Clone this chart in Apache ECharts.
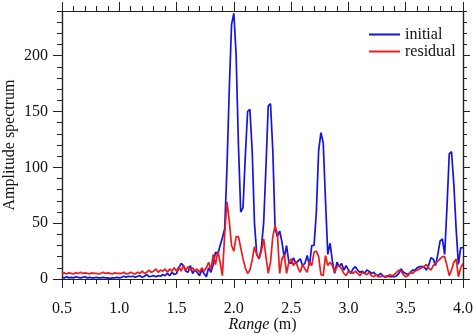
<!DOCTYPE html>
<html>
<head>
<meta charset="utf-8">
<script src="https://cdn.jsdelivr.net/npm/echarts@6/dist/echarts.min.js"></script>
<style>
html,body{margin:0;padding:0;background:#fff;}
#c{width:474px;height:335px;}
</style>
</head>
<body>
<div id="c"></div>
<script>
// Range samples (m)
const range = [
0.50,0.52,0.54,0.56,0.58,0.60,0.62,0.64,0.66,0.68,0.70,0.72,0.74,0.76,0.78,0.80,0.82,0.84,0.86,0.88,0.90,0.92,0.94,0.96,0.98,
1.00,1.02,1.04,1.06,1.08,1.10,1.12,1.14,1.16,1.18,1.20,1.22,1.24,1.26,1.28,1.30,1.32,1.34,1.36,1.38,1.40,1.42,1.44,1.46,1.48,
1.50,1.52,1.54,1.56,1.58,1.60,1.62,1.64,1.66,1.68,1.70,1.72,1.74,1.76,1.78,1.80,1.82,1.84,1.86,1.88,1.90,1.92,1.94,1.96,1.98,
2.00,2.02,2.04,2.06,2.08,2.10,2.12,2.14,2.16,2.18,2.20,2.22,2.24,2.26,2.28,2.30,2.32,2.34,2.36,2.38,2.40,2.42,2.44,2.46,2.48,
2.50,2.52,2.54,2.56,2.58,2.60,2.62,2.64,2.66,2.68,2.70,2.72,2.74,2.76,2.78,2.80,2.82,2.84,2.86,2.88,2.90,2.92,2.94,2.96,2.98,
3.00,3.02,3.04,3.06,3.08,3.10,3.12,3.14,3.16,3.18,3.20,3.22,3.24,3.26,3.28,3.30,3.32,3.34,3.36,3.38,3.40,3.42,3.44,3.46,3.48,
3.50,3.52,3.54,3.56,3.58,3.60,3.62,3.64,3.66,3.68,3.70,3.72,3.74,3.76,3.78,3.80,3.82,3.84,3.86,3.88,3.90,3.92,3.94,3.96,3.98,
4.00
];

// Amplitude spectrum, initial (blue)
const initial = [
1.5,1,2,1,1.5,1,2,1.5,1,1.5,2,1,1.5,1,1,1.5,1,1,1.5,1,1,0.5,1,1,1.5,1,
1.5,2.5,1.5,2.5,2,2.5,1.5,2.5,3,1.5,2.5,4,2,2.5,3,2,3,2.5,4,3,
5,3,6,4,5,
10,14,12,7,6,12,5,8,6,3,8,5,2,10,6,13,24,22,30,37,45,100,170,228,238,
200,120,60,64,110,150,152,115,50,22,
18,28,50,100,155,157,115,45,38,43,
33,19,30,15,14,19,14,16,18,12,
14,21,12,30,30,60,115,131,122,70,
22,32,16,5,15,11,14,8,12,8,
5,9,11,8,6,7,5,8,7,5,
6,4,3,5,3,2,3,2,2,2,
3,5,9,6,5,4,6,8,8,10,
11,11,11,8,12,19,18,12,22,34,
36,22,64,112,114,85,45,13,28,28
];

// Amplitude spectrum, residual (red)
const residual = [
5,5.5,4.5,5.5,5,4.5,5.5,5,6,5,5.5,5,4.5,5.5,5,5,4.5,5,6,5,5.5,5,4.5,5.5,5,5,
5,6,4.5,5,6,5,4.5,6,5,7,5,6,8,6,7,9,6,8,7,9,
6,9,7,10,7,
11,7,12,8,11,8,10,7,9,6,10,7,10,15,8,22,13,25,15,3,40,69,52,30,25,
38,38,28,18,10,5,8,17,29,22,
18,25,36,20,5,15,38,48,40,5,
18,22,5,15,18,12,16,10,6,13,
9,6,16,12,24,25,20,4,3,21,
12,15,12,6,11,12,9,5,3,7,
6,5,7,5,3,6,5,4,6,3,
2,4,2,2,3,1.5,2,4,3,4,
6,8,7,4,2,3,6,5,7,8,
9,10,11,13,10,8,12,14,16,18,
20,20,12,3,8,15,18,2,10,14
];

const seriesNames = ['initial', 'residual'];
const xTickLabels = [0.5, 1.0, 1.5, 2.0, 2.5, 3.0, 3.5, 4.0];
const yTickLabels = [0, 50, 100, 150, 200];

const FONT = "'Liberation Serif', 'DejaVu Serif', serif";
const AX = '#222';
const BLUE = '#1414dc';
const RED = '#ec1c1c';
const chart = echarts.init(document.getElementById('c'), null, {renderer: 'canvas'});

const baseX = {
  type: 'value', min: 0.5, max: 4.0, interval: 0.5, gridIndex: 0,
  axisLine: {show: true, onZero: false, lineStyle: {color: AX, width: 1.2}},
  axisTick: {show: true, inside: false, length: 9, lineStyle: {color: AX, width: 1}},
  minorTick: {show: true, splitNumber: 5, length: 5, lineStyle: {color: AX, width: 1}},
  splitLine: {show: false}, minorSplitLine: {show: false}
};
const baseY = {
  type: 'value', min: 0, max: 240, gridIndex: 0,
  axisLine: {show: true, onZero: false, lineStyle: {color: AX, width: 1.2}},
  splitLine: {show: false}
};

const option = {
  animation: false,
  backgroundColor: '#fff',
  grid: {left: 62, right: 11, top: 11, bottom: 56, containLabel: false, outerBoundsMode: 'none'},
  legend: {
    orient: 'vertical', left: 364, top: 21,
    itemWidth: 31, itemHeight: 2, itemGap: 0,
    icon: 'rect',
    data: [
      {name: seriesNames[0], itemStyle: {color: BLUE}},
      {name: seriesNames[1], itemStyle: {color: RED}}
    ],
    textStyle: {fontFamily: FONT, fontSize: 16, color: '#111', lineHeight: 17}
  },
  xAxis: [
    Object.assign({}, baseX, {
      position: 'bottom',
      axisLabel: {show: true, margin: 22, fontFamily: FONT, fontSize: 16, color: '#111',
        customValues: xTickLabels, formatter: v => v.toFixed(1)},
      name: '{it|Range} (m)', nameLocation: 'middle', nameGap: 38, nameMoveOverlap: false,
      nameTextStyle: {fontFamily: FONT, fontSize: 16, color: '#111',
        rich: {it: {fontFamily: FONT, fontSize: 16, fontStyle: 'italic', color: '#111'}}}
    }),
    Object.assign({}, baseX, {
      position: 'top',
      axisLabel: {show: false}
    })
  ],
  yAxis: [
    Object.assign({}, baseY, {
      position: 'left', interval: 50,
      axisTick: {show: true, length: 9, customValues: yTickLabels, lineStyle: {color: AX, width: 1}},
      axisLabel: {show: true, margin: 14, fontFamily: FONT, fontSize: 16, color: '#111', customValues: yTickLabels},
      name: 'Amplitude spectrum', nameLocation: 'middle', nameGap: 44, nameRotate: 90, nameMoveOverlap: false,
      nameTextStyle: {fontFamily: FONT, fontSize: 16, color: '#111'}
    }),
    Object.assign({}, baseY, {
      position: 'left', interval: 10,
      axisTick: {show: true, length: 5, lineStyle: {color: AX, width: 1}},
      axisLabel: {show: false}
    }),
    Object.assign({}, baseY, {
      position: 'right', interval: 50,
      axisTick: {show: true, length: 7, customValues: yTickLabels, lineStyle: {color: AX, width: 1}},
      axisLabel: {show: false}
    }),
    Object.assign({}, baseY, {
      position: 'right', interval: 10,
      axisTick: {show: true, length: 4, lineStyle: {color: AX, width: 1}},
      axisLabel: {show: false}
    })
  ],
  series: [
    {
      name: seriesNames[0], type: 'line', xAxisIndex: 0, yAxisIndex: 1,
      symbol: 'none', showSymbol: false,
      lineStyle: {color: BLUE, width: 1.7}, itemStyle: {color: BLUE},
      data: range.map((x, i) => [x, initial[i]])
    },
    {
      name: seriesNames[1], type: 'line', xAxisIndex: 0, yAxisIndex: 1,
      symbol: 'none', showSymbol: false,
      lineStyle: {color: RED, width: 1.7}, itemStyle: {color: RED},
      data: range.map((x, i) => [x, residual[i]])
    }
  ]
};
chart.setOption(option);
</script>
</body>
</html>
